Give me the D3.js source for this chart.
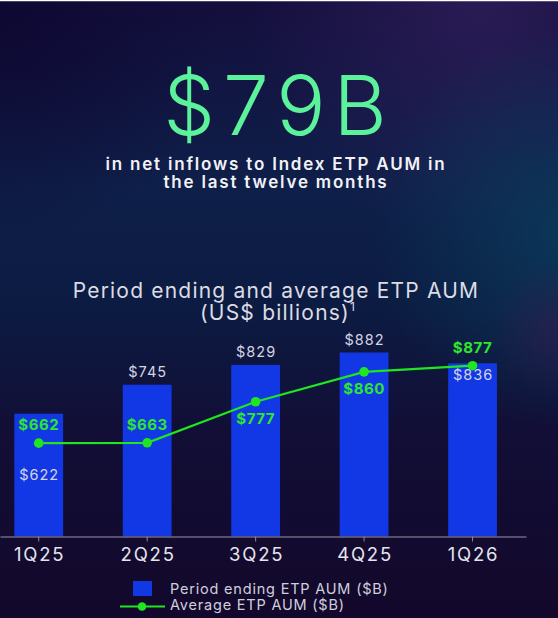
<!DOCTYPE html>
<html>
<head>
  <meta charset="utf-8">
  <script src="https://cdn.jsdelivr.net/npm/d3@7"></script>
  <style>
    html, body { margin: 0; padding: 0; overflow: hidden; background: #120c34; }
    svg { display: block; font-family: Inter, "Noto Sans", sans-serif; }
  </style>
</head>
<body>
<script>
// ---- data ----
const quarters = ["1Q25", "2Q25", "3Q25", "4Q25", "1Q26"];
const periodEnding = [622, 745, 829, 882, 836];   // bars
const averageAum = [662, 663, 777, 860, 877];     // line
// where each value label sits relative to its mark
const barLabelPlace = ["low", "above", "above", "above", "inside"];
const avgLabelPlace = ["above", "above", "below", "below", "above"];

const headline = "$79B";
const subLines = ["in net inflows to Index ETP AUM in", "the last twelve months"];
const titleLines = ["Period ending and average ETP AUM", "(US$ billions)"];
const legendItems = ["Period ending ETP AUM ($B)", "Average ETP AUM ($B)"];

// ---- dimensions ----
const WIDTH = 558, HEIGHT = 618;
const CX = 275;          // centre line for headings
const AXIS_Y = 536.5;
const BAR_COLOR = "#1238e6";
const LINE_COLOR = "#1fe61f";
const LABEL_GREEN = "#2ee62e";

const svg = d3.select("body").append("svg")
  .attr("width", WIDTH)
  .attr("height", HEIGHT);

// background gradients
const defs = svg.append("defs");
const base = defs.append("linearGradient").attr("id", "bg").attr("x1", 0).attr("y1", 0).attr("x2", 0).attr("y2", 1);
[[0, "#140e3c"], [0.3, "#0e1f49"], [0.5, "#0c1b42"], [0.7, "#120e36"], [1, "#13082b"]]
  .forEach(([o, c]) => base.append("stop").attr("offset", o).attr("stop-color", c));

function radial(id, cx, cy, r, color, op) {
  const g = defs.append("radialGradient").attr("id", id)
    .attr("gradientUnits", "userSpaceOnUse")
    .attr("cx", cx).attr("cy", cy).attr("r", r);
  g.append("stop").attr("offset", 0).attr("stop-color", color).attr("stop-opacity", op);
  g.append("stop").attr("offset", 1).attr("stop-color", color).attr("stop-opacity", 0);
}
radial("glowPurple", 480, 0, 240, "#33205f", 0.7);
radial("glowTeal", 570, 230, 200, "#0a3d5c", 0.8);
radial("glowDark", 0, 20, 220, "#0c0730", 0.8);
radial("glowPink", 560, 330, 70, "#3a1a50", 0.5);

svg.append("rect").attr("width", WIDTH).attr("height", HEIGHT).attr("fill", "url(#bg)");
["glowPurple", "glowTeal", "glowDark", "glowPink"].forEach(id =>
  svg.append("rect").attr("width", WIDTH).attr("height", HEIGHT).attr("fill", `url(#${id})`));

svg.append("line").attr("x1", 0).attr("x2", WIDTH).attr("y1", 0.5).attr("y2", 0.5)
  .attr("stroke", "#ffffff").attr("stroke-width", 1.5);

// ---- headings ----
// trailing letter-spacing shifts centred text left, so nudge x by half of it
svg.append("text")
  .attr("x", CX + 4).attr("y", 135)
  .attr("text-anchor", "middle")
  .attr("font-size", 82).attr("font-weight", 300)
  .attr("letter-spacing", 8)
  .attr("fill", "#5cf29c")
  .text(headline);

svg.append("g").selectAll("text")
  .data(subLines)
  .join("text")
  .attr("x", CX + 1).attr("y", (d, i) => 170 + i * 18)
  .attr("text-anchor", "middle")
  .attr("font-size", 17).attr("font-weight", 600)
  .attr("letter-spacing", 1.8)
  .attr("fill", "#f2f2f6")
  .text(d => d);

const title = svg.append("g").attr("fill", "#dcdce4").attr("font-size", 21).attr("text-anchor", "middle")
  .attr("letter-spacing", 1.2);
title.append("text").attr("x", CX + 1).attr("y", 298).text(titleLines[0]);
const t2 = title.append("text").attr("x", CX + 3).attr("y", 320).text(titleLines[1]);
t2.append("tspan").attr("font-size", 12).attr("dy", -9).text("1");

// ---- scales ----
const x = d3.scaleBand()
  .domain(quarters)
  .range([0, 526])
  .paddingInner(0.55)
  .paddingOuter(0.2)
  .align(0.33);

const yBar = d3.scaleLinear().domain([100, 882]).range([AXIS_Y, 352.5]);
const yAvg = d3.scaleLinear().domain([403, 877]).range([AXIS_Y, 365.7]);

const cx = q => x(q) + x.bandwidth() / 2;

// ---- bars ----
svg.append("g").selectAll("rect")
  .data(quarters)
  .join("rect")
  .attr("x", d => x(d))
  .attr("width", x.bandwidth())
  .attr("y", (d, i) => yBar(periodEnding[i]))
  .attr("height", (d, i) => AXIS_Y - yBar(periodEnding[i]))
  .attr("fill", BAR_COLOR);

// ---- axis ----
const axis = svg.append("g")
  .attr("transform", `translate(0,${AXIS_Y})`)
  .call(d3.axisBottom(x).tickSize(5).tickSizeOuter(0));
axis.select(".domain").attr("stroke", "#6c6a80").attr("stroke-width", 1.5);
axis.selectAll(".tick line").attr("stroke", "#8a889a");
axis.selectAll(".tick text")
  .attr("x", 1).attr("y", 24).attr("dy", 0)
  .attr("font-size", 18.5).attr("font-family", "Inter, sans-serif")
  .attr("letter-spacing", 1.8)
  .attr("fill", "#e4e4ec");

// ---- bar labels ----
function barLabelY(i) {
  const top = yBar(periodEnding[i]);
  if (barLabelPlace[i] === "above") return top - 8;
  if (barLabelPlace[i] === "inside") return top + 17;
  return yAvg(averageAum[i]) + 37;
}
svg.append("g").selectAll("text")
  .data(quarters)
  .join("text")
  .attr("x", d => cx(d) + 0.5)
  .attr("y", (d, i) => barLabelY(i))
  .attr("text-anchor", "middle")
  .attr("font-size", 14.5)
  .attr("letter-spacing", 1)
  .attr("fill", "#d4d4e2")
  .text((d, i) => "$" + periodEnding[i]);

// ---- average line ----
const line = d3.line()
  .x((d, i) => cx(quarters[i]))
  .y(d => yAvg(d));

svg.append("path")
  .datum(averageAum)
  .attr("d", line)
  .attr("fill", "none")
  .attr("stroke", LINE_COLOR)
  .attr("stroke-width", 2.2);

svg.append("g").selectAll("circle")
  .data(averageAum)
  .join("circle")
  .attr("cx", (d, i) => cx(quarters[i]))
  .attr("cy", d => yAvg(d))
  .attr("r", 4.8)
  .attr("fill", LINE_COLOR);

svg.append("g").selectAll("text")
  .data(averageAum)
  .join("text")
  .attr("x", (d, i) => cx(quarters[i]))
  .attr("y", (d, i) => yAvg(d) + (avgLabelPlace[i] === "above" ? -13 : 22))
  .attr("text-anchor", "middle")
  .attr("font-size", 15).attr("font-weight", 700)
  .attr("letter-spacing", 0.5)
  .attr("fill", LABEL_GREEN)
  .text(d => "$" + d);

// ---- legend ----
const legend = svg.append("g").attr("font-size", 14.5).attr("fill", "#cfcfdc").attr("letter-spacing", 0.8);
legend.append("rect").attr("x", 133).attr("y", 581).attr("width", 19).attr("height", 15).attr("fill", BAR_COLOR);
legend.append("text").attr("x", 170).attr("y", 594).text(legendItems[0]);
legend.append("line").attr("x1", 120).attr("x2", 165).attr("y1", 606.5).attr("y2", 606.5)
  .attr("stroke", LINE_COLOR).attr("stroke-width", 2.2);
legend.append("circle").attr("cx", 142).attr("cy", 606.5).attr("r", 4.3).attr("fill", LINE_COLOR);
legend.append("text").attr("x", 170).attr("y", 610).text(legendItems[1]);
</script>
</body>
</html>
